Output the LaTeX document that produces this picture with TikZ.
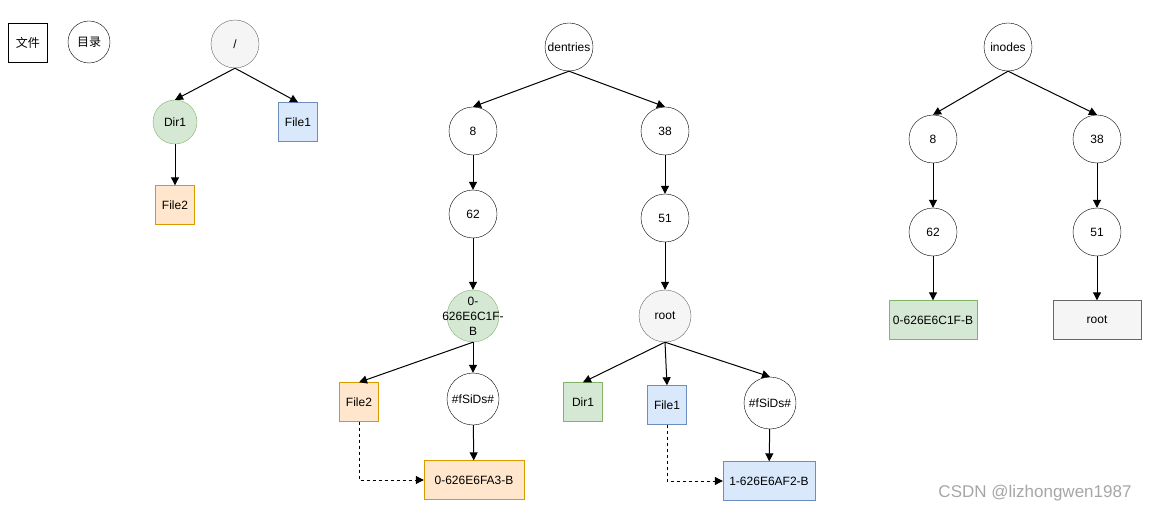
\documentclass[tikz,border=0pt]{standalone}
\usepackage{fontspec}
\setmainfont{Liberation Sans}
\newfontfamily\cjk{Noto Sans CJK SC}
\usetikzlibrary{arrows.meta}
\definecolor{gF}{HTML}{F5F5F5}\definecolor{gS}{HTML}{666666}
\definecolor{grF}{HTML}{D5E8D4}\definecolor{grS}{HTML}{82B366}
\definecolor{bF}{HTML}{DAE8FC}\definecolor{bS}{HTML}{6C8EBF}
\definecolor{oF}{HTML}{FFE6CC}\definecolor{oS}{HTML}{D79B00}
\begin{document}
\begin{tikzpicture}[x=1pt,y=-1pt,
  every node/.style={font=\fontsize{12}{14}\selectfont, align=center, inner sep=0pt},
  dir/.style={circle, draw, minimum size=48pt, fill=white},
  bdir/.style={circle, draw, minimum size=52pt, fill=white},
  file/.style={draw, minimum size=39pt},
  wide/.style={draw, minimum height=39pt},
  gray/.style={fill=gF, draw=gS},
  green/.style={fill=grF, draw=grS},
  blue/.style={fill=bF, draw=bS},
  orange/.style={fill=oF, draw=oS},
  arr/.style={-{Triangle[length=8pt,width=8pt]}, line width=1pt},
  darr/.style={arr, dashed}]
\useasboundingbox (0,0) rectangle (1160,513);
% legend
\node[file] (lf) at (28,43) {\cjk 文件};
\node[circle, draw, minimum size=42pt] (ld) at (89,42) {\cjk 目录};
% tree
\node[dir, minimum size=48pt, gray] (t0) at (235,44) {/};
\node[dir, minimum size=44pt, green] (t1) at (175,122) {Dir1};
\node[file, blue] (t2) at (298,122) {File1};
\node[file, orange] (t3) at (175,205) {File2};
\draw[arr] (t0.south) -- (t1.north);
\draw[arr] (t0.south) -- (t2.north);
\draw[arr] (t1.south) -- (t3.north);
% dentries
\node[dir] (d0) at (569,47) {dentries};
\node[dir] (d8) at (473,131) {8};
\node[dir] (d38) at (665,131) {38};
\node[dir] (d62) at (473,214) {62};
\node[dir] (d51) at (665,218) {51};
\node[bdir, green, inner sep=-12pt, font=\fontsize{12}{15}\selectfont] (dc) at (473,316) {0-\\626E6C1F-\\B};
\node[bdir, gray] (dr) at (665,316) {root};
\node[file, orange] (df2) at (359,402) {File2};
\node[bdir] (ds1) at (473,399) {\#fSiDs\#};
\node[file, green] (dd1) at (583,402) {Dir1};
\node[file, blue] (df1) at (667,405) {File1};
\node[bdir] (ds2) at (770,403) {\#fSiDs\#};
\node[wide, orange, minimum width=100pt] (da) at (474,480) {0-626E6FA3-B};
\node[wide, blue, minimum width=92pt] (db) at (769,481) {1-626E6AF2-B};
\draw[arr] (d0.south) -- (d8.north);
\draw[arr] (d0.south) -- (d38.north);
\draw[arr] (d8) -- (d62);
\draw[arr] (d38) -- (d51);
\draw[arr] (d62) -- (dc);
\draw[arr] (d51) -- (dr);
\draw[arr] (dc.south) -- (df2.north);
\draw[arr] (dc) -- (ds1);
\draw[arr] (dr.south) -- (dd1.north);
\draw[arr] (dr.south) -- (df1.north);
\draw[arr] (dr.south) -- (ds2.north);
\draw[arr] (ds1) -- (da);
\draw[arr] (ds2) -- (db);
\draw[darr] (df2.south) |- (da.west);
\draw[darr] (df1.south) |- (db.west);
% inodes
\node[dir] (i0) at (1008,47) {inodes};
\node[dir] (i8) at (933,139) {8};
\node[dir] (i38) at (1097,139) {38};
\node[dir] (i62) at (933,232) {62};
\node[dir] (i51) at (1097,232) {51};
\node[wide, green, minimum width=88pt] (ic) at (933,320) {0-626E6C1F-B};
\node[wide, gray, minimum width=88pt] (ir) at (1097,320) {root};
\draw[arr] (i0.south) -- (i8.north);
\draw[arr] (i0.south) -- (i38.north);
\draw[arr] (i8) -- (i62);
\draw[arr] (i38) -- (i51);
\draw[arr] (i62) -- (ic);
\draw[arr] (i51) -- (ir);
\node[text=gray!70, font=\fontsize{17}{19}\selectfont] (wm) at (1035,493) {CSDN @lizhongwen1987};
\end{tikzpicture}
\end{document}
